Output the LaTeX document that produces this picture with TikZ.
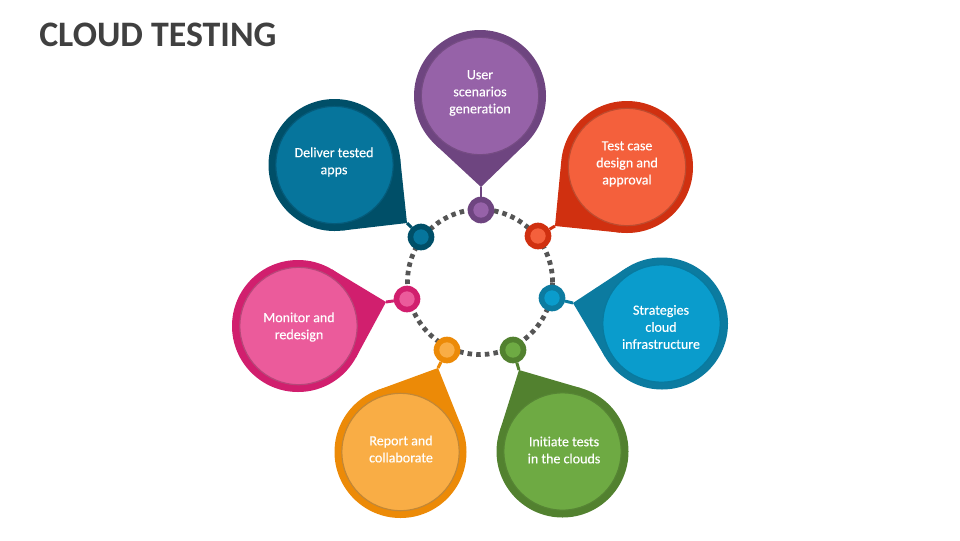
\documentclass[tikz,border=0pt]{standalone}
\usepackage{fontspec}
\setmainfont{Carlito}
\newfontfamily\captionfont[FakeBold=0.3, Ligatures=NoCommon]{Carlito}
\usetikzlibrary{calc}

\definecolor{purpleA}{HTML}{6E4580}
\definecolor{purpleB}{HTML}{9662A8}
\definecolor{redA}{HTML}{D03010}
\definecolor{redB}{HTML}{F4603C}
\definecolor{blueA}{HTML}{0C7BA0}
\definecolor{blueB}{HTML}{0A9CCC}
\definecolor{greenA}{HTML}{52812F}
\definecolor{greenB}{HTML}{6EAA43}
\definecolor{orangeA}{HTML}{EC8A07}
\definecolor{orangeB}{HTML}{F9AD45}
\definecolor{pinkA}{HTML}{D11F6E}
\definecolor{pinkB}{HTML}{EB5B9B}
\definecolor{tealA}{HTML}{004F68}
\definecolor{tealB}{HTML}{06759C}
\definecolor{titlegray}{HTML}{404040}
\definecolor{ringgray}{HTML}{555555}

\tikzset{
	pin/.style={shape=circle, fill=#1, inner sep=0pt, outer sep=0pt, minimum size=99pt},
	face/.style={shape=circle, fill=#1, draw=#1!78!black, line width=0.9pt, inner sep=0pt, outer sep=0pt, minimum size=88pt},
	knob/.style={shape=circle, fill=#1, inner sep=0pt, outer sep=0pt, minimum size=20pt},
	knobface/.style={shape=circle, fill=#1, inner sep=0pt, outer sep=0pt, minimum size=11.5pt},
	stem/.style={-, draw=#1, line width=2.2pt},
	caption/.style={text=white, align=center, font=\fontsize{10.5}{12.8}\captionfont},
}
\newcommand{\pinbody}[3]{\fill[#1] (#3) -- (tangent cs:node=#2,point={(#3)},solution=1) -- (tangent cs:node=#2,point={(#3)},solution=2) -- cycle;}

\begin{document}
\begin{tikzpicture}[x=0.75pt, y=-0.75pt]
	\useasboundingbox (0,0) rectangle (960,540);

	\node[anchor=west, text=titlegray, font=\fontsize{26.9}{30}\selectfont\bfseries, inner sep=0pt] (title) at (39,34.5) {CLOUD TESTING};

	% dotted ring
	\node[shape=circle, draw=ringgray, line width=3.6pt, dash pattern=on 3.4pt off 3.1pt, inner sep=0pt, minimum size=108.8pt] (ring) at (480,282) {};

	% pins
	\node[pin=purpleA] (pin1) at (480,96)  {};
	\node[pin=redA]    (pin2) at (627,167) {};
	\node[pin=blueA]   (pin3) at (662,323.5) {};
	\node[pin=greenA]  (pin4) at (562.5,451.5) {};
	\node[pin=orangeA] (pin5) at (400.5,452) {};
	\node[pin=pinkA]   (pin6) at (298,326) {};
	\node[pin=tealA]   (pin7) at (334.5,165) {};

	\coordinate (tip1) at (481,187);
	\coordinate (tip2) at (555,226);
	\coordinate (tip3) at (573,303);
	\coordinate (tip4) at (519,370);
	\coordinate (tip5) at (438,368);
	\coordinate (tip6) at (386,302);
	\coordinate (tip7) at (407,223);

	\pinbody{purpleA}{pin1}{tip1}
	\pinbody{redA}{pin2}{tip2}
	\pinbody{blueA}{pin3}{tip3}
	\pinbody{greenA}{pin4}{tip4}
	\pinbody{orangeA}{pin5}{tip5}
	\pinbody{pinkA}{pin6}{tip6}
	\pinbody{tealA}{pin7}{tip7}

	\node[face=purpleB] (face1) at (480,96)  {};
	\node[face=redB]    (face2) at (627,167) {};
	\node[face=blueB]   (face3) at (661.5,323.5) {};
	\node[face=greenB]  (face4) at (562.5,451.5) {};
	\node[face=orangeB] (face5) at (400.5,452) {};
	\node[face=pinkB]   (face6) at (298.5,326) {};
	\node[face=tealB]   (face7) at (334.5,165) {};

	% knobs on the ring
	\node[knob=purpleA] (knob1) at (481,210) {};
	\node[knob=redA]    (knob2) at (538,236) {};
	\node[knob=blueA]   (knob3) at (552,298) {};
	\node[knob=greenA]  (knob4) at (513,350) {};
	\node[knob=orangeA] (knob5) at (447,350) {};
	\node[knob=pinkA]   (knob6) at (407,299) {};
	\node[knob=tealA]   (knob7) at (421,237) {};

	\node[knobface=purpleB] (dot1) at (481,210) {};
	\node[knobface=redB]    (dot2) at (538,236) {};
	\node[knobface=blueB]   (dot3) at (552,298) {};
	\node[knobface=greenB]  (dot4) at (513,350) {};
	\node[knobface=orangeB] (dot5) at (447,350) {};
	\node[knobface=pinkB]   (dot6) at (407,299) {};
	\node[knobface=tealB]   (dot7) at (421,237) {};

	\path [stem=purpleA] (tip1) edge (knob1);
	\path [stem=redA]    (tip2) edge (knob2);
	\path [stem=blueA]   (tip3) edge (knob3);
	\path [stem=greenA]  (tip4) edge (knob4);
	\path [stem=orangeA] (tip5) edge (knob5);
	\path [stem=pinkA]   (tip6) edge (knob6);
	\path [stem=tealA]   (tip7) edge (knob7);

	% captions
	\node[caption] (text1) at (480,93)  {User\\scenarios\\generation};
	\node[caption] (text2) at (627,164) {Test case\\design and\\approval};
	\node[caption] (text3) at (661,327) {Strategies\\cloud\\infrastructure};
	\node[caption] (text4) at (564,450) {Initiate tests\\in the clouds};
	\node[caption] (text5) at (401,449) {Report and\\collaborate};
	\node[caption] (text6) at (299,327) {Monitor and\\redesign};
	\node[caption] (text7) at (334,162) {Deliver tested\\apps};
\end{tikzpicture}
\end{document}
